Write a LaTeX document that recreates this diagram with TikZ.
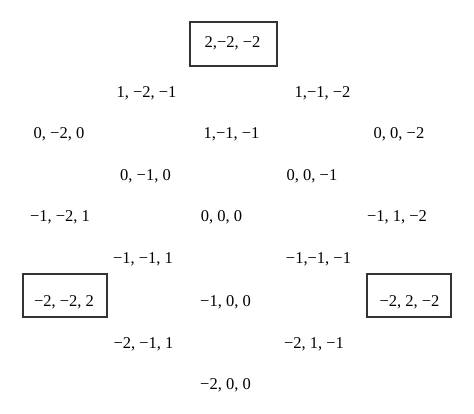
\documentclass[tikz,border=0pt]{standalone}
\usepackage{fontspec}
\setmainfont{Liberation Serif}
\begin{document}
\begin{tikzpicture}[x=1pt,y=-1pt,
  lbl/.style={anchor=base,inner sep=0pt,font=\fontsize{16.5}{18}\selectfont},
  framebox/.style={draw=black!80,line width=1.1pt,fill=none}]
\useasboundingbox[fill=white] (0,0) rectangle (474,414);
% boxes
\node[framebox,minimum width=87pt,minimum height=44pt,inner sep=0pt] (bt) at (233.5,44) {};
\node[framebox,minimum width=84pt,minimum height=43pt,inner sep=0pt] (bl) at (65,295.5) {};
\node[framebox,minimum width=84pt,minimum height=43pt,inner sep=0pt] (br) at (409,295.5) {};
\node[lbl] (t) at (232.5,48) {2,−2, −2};
\node[lbl] (l) at (64,306) {−2, −2, 2};
\node[lbl] (r) at (409.5,306) {−2, 2, −2};
% row 1
\node[lbl] (a1) at (146.5,98) {1, −2, −1};
\node[lbl] (a2) at (322.5,98) {1,−1, −2};
% row 2
\node[lbl] (b1) at (59,139) {0, −2, 0};
\node[lbl] (b2) at (231.5,139) {1,−1, −1};
\node[lbl] (b3) at (399,139) {0, 0, −2};
% row 3
\node[lbl] (c1) at (145.5,181) {0, −1, 0};
\node[lbl] (c2) at (312,181) {0, 0, −1};
% row 4
\node[lbl] (d1) at (60,222) {−1, −2, 1};
\node[lbl] (d2) at (221.5,222) {0, 0, 0};
\node[lbl] (d3) at (397,222) {−1, 1, −2};
% row 5
\node[lbl] (e1) at (143,264) {−1, −1, 1};
\node[lbl] (e2) at (318.5,264) {−1,−1, −1};
% row 6
\node[lbl] (f1) at (225.5,306) {−1, 0, 0};
% row 7
\node[lbl] (g1) at (143.5,348) {−2, −1, 1};
\node[lbl] (g2) at (314,348) {−2, 1, −1};
% row 8
\node[lbl] (h1) at (225.5,389) {−2, 0, 0};
\end{tikzpicture}
\end{document}
